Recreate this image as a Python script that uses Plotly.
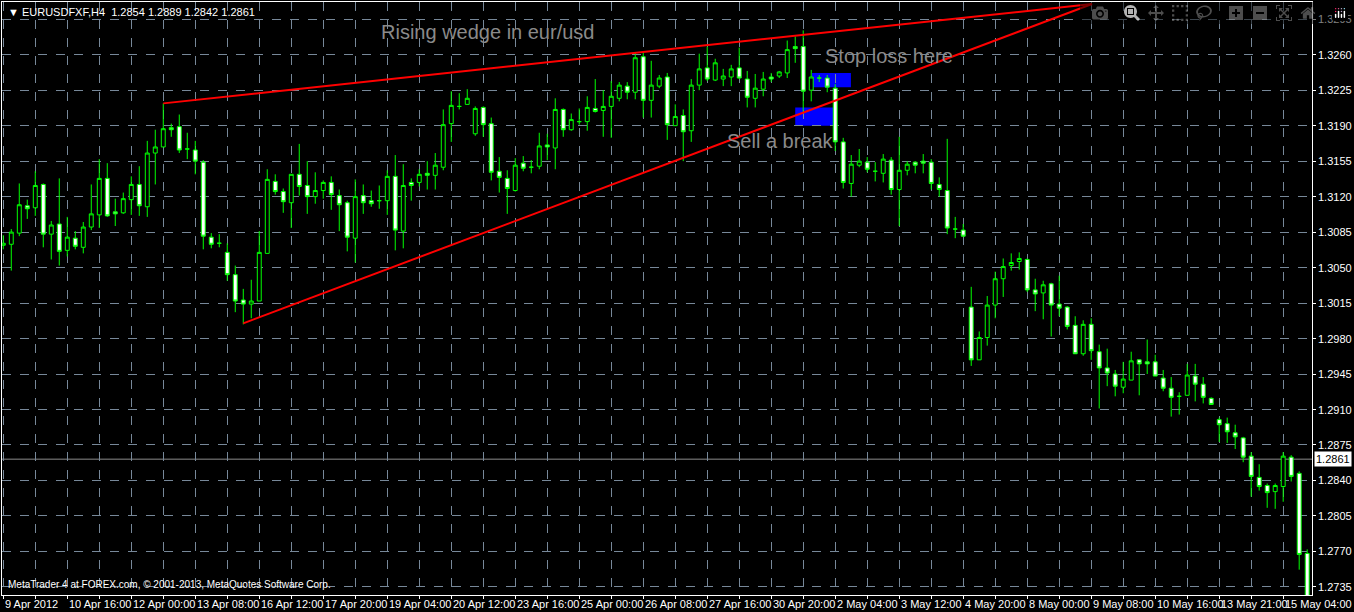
import plotly.graph_objects as go

opens = [1.3072,1.3073,1.3084,1.3111,1.3109,1.3132,1.3083,1.3093,1.3067,1.3079,1.3070,1.3090,1.3102,1.3138,1.3105,1.3104,1.3117,1.3132,1.3110,1.3163,
1.3169,1.3188,1.3189,1.3167,1.3166,1.3154,1.3080,1.3074,1.3065,1.3043,1.3018,1.3014,1.3017,1.3064,1.3135,1.3125,1.3114,1.3142,1.3131,1.3120,
1.3126,1.3134,1.3121,1.3114,1.3079,1.3121,1.3116,1.3116,1.3116,1.3140,1.3086,1.3134,1.3134,1.3143,1.3141,1.3149,1.3192,1.3209,1.3211,1.3182,
1.3208,1.3192,1.3145,1.3138,1.3126,1.3153,1.3149,1.3150,1.3171,1.3168,1.3206,1.3186,1.3194,1.3194,1.3207,1.3205,1.3209,1.3217,1.3229,1.3223,
1.3258,1.3215,1.3229,1.3238,1.3190,1.3200,1.3185,1.3230,1.3247,1.3235,1.3236,1.3238,1.3247,1.3236,1.3217,1.3226,1.3238,1.3239,1.3242,1.3268,
1.3268,1.3225,1.3237,1.3237,1.3227,1.3174,1.3133,1.3151,1.3154,1.3145,1.3143,1.3156,1.3127,1.3146,1.3154,1.3155,1.3154,1.3132,1.3126,1.3088,
1.3087,1.3011,1.2959,1.2981,1.3013,1.3039,1.3052,1.3056,1.3058,1.3028,1.3025,1.3034,1.3014,1.3011,1.2993,1.2965,1.2994,1.2967,1.2951,1.2945,
1.2932,1.2939,1.2959,1.2957,1.2957,1.2941,1.2931,1.2923,1.2924,1.2943,1.2935,1.2921,1.2900,1.2896,1.2887,1.2882,1.2864,1.2843,1.2835,1.2829,
1.2834,1.2863,1.2847,1.2768]
highs = [1.3082,1.3088,1.3133,1.3117,1.3145,1.3133,1.3096,1.3138,1.3100,1.3086,1.3095,1.3132,1.3157,1.3153,1.3118,1.3124,1.3140,1.3150,1.3175,1.3186,
1.3212,1.3192,1.3201,1.3183,1.3175,1.3156,1.3084,1.3083,1.3074,1.3052,1.3029,1.3038,1.3086,1.3147,1.3142,1.3128,1.3142,1.3172,1.3155,1.3144,
1.3136,1.3140,1.3127,1.3116,1.3137,1.3132,1.3126,1.3131,1.3146,1.3161,1.3152,1.3138,1.3147,1.3155,1.3163,1.3206,1.3224,1.3222,1.3226,1.3209,
1.3209,1.3198,1.3159,1.3146,1.3158,1.3160,1.3156,1.3183,1.3182,1.3217,1.3207,1.3202,1.3207,1.3219,1.3236,1.3225,1.3234,1.3233,1.3233,1.3262,
1.3262,1.3254,1.3240,1.3242,1.3211,1.3206,1.3236,1.3261,1.3268,1.3256,1.3246,1.3250,1.3267,1.3244,1.3241,1.3243,1.3242,1.3244,1.3274,1.3278,
1.3284,1.3245,1.3240,1.3240,1.3231,1.3178,1.3161,1.3167,1.3159,1.3154,1.3162,1.3159,1.3179,1.3155,1.3155,1.3162,1.3157,1.3139,1.3177,1.3100,
1.3093,1.3031,1.2987,1.3022,1.3046,1.3059,1.3064,1.3065,1.3059,1.3039,1.3037,1.3035,1.3042,1.3012,1.3002,1.2998,1.3000,1.2974,1.2970,1.2949,
1.2957,1.2967,1.2959,1.2979,1.2964,1.2949,1.2942,1.2927,1.2955,1.2955,1.2942,1.2922,1.2902,1.2902,1.2895,1.2883,1.2868,1.2856,1.2837,1.2837,
1.2868,1.2865,1.2849,1.2772]
lows = [1.3068,1.3047,1.3081,1.3098,1.3101,1.3070,1.3058,1.3052,1.3061,1.3068,1.3064,1.3087,1.3089,1.3100,1.3091,1.3103,1.3102,1.3101,1.3100,1.3132,
1.3169,1.3179,1.3163,1.3157,1.3142,1.3068,1.3069,1.3070,1.3037,1.3006,1.2994,1.3000,1.3017,1.3064,1.3122,1.3104,1.3089,1.3121,1.3103,1.3113,
1.3118,1.3107,1.3086,1.3066,1.3055,1.3103,1.3110,1.3108,1.3102,1.3067,1.3069,1.3116,1.3130,1.3127,1.3127,1.3146,1.3174,1.3206,1.3211,1.3180,
1.3179,1.3136,1.3124,1.3103,1.3125,1.3145,1.3143,1.3147,1.3156,1.3147,1.3179,1.3185,1.3191,1.3185,1.3203,1.3179,1.3178,1.3214,1.3216,1.3216,
1.3198,1.3198,1.3227,1.3176,1.3190,1.3155,1.3174,1.3225,1.3234,1.3234,1.3229,1.3229,1.3236,1.3208,1.3208,1.3219,1.3233,1.3237,1.3237,1.3252,
1.3202,1.3214,1.3233,1.3223,1.3165,1.3128,1.3120,1.3149,1.3144,1.3135,1.3134,1.3122,1.3091,1.3141,1.3143,1.3143,1.3127,1.3120,1.3083,1.3079,
1.3080,1.2953,1.2959,1.2973,1.3000,1.3021,1.3047,1.3048,1.3026,1.3007,1.2999,1.2982,1.3002,1.2989,1.2965,1.2963,1.2959,1.2911,1.2933,1.2923,
1.2926,1.2939,1.2924,1.2945,1.2943,1.2928,1.2903,1.2905,1.2924,1.2918,1.2916,1.2915,1.2878,1.2877,1.2871,1.2858,1.2824,1.2830,1.2813,1.2812,
1.2819,1.2839,1.2752,1.2722]
closes = [1.3074,1.3085,1.3112,1.3108,1.3131,1.3083,1.3092,1.3066,1.3080,1.3071,1.3090,1.3103,1.3138,1.3101,1.3103,1.3118,1.3132,1.3111,1.3163,1.3169,
1.3187,1.3186,1.3166,1.3167,1.3155,1.3081,1.3073,1.3074,1.3043,1.3017,1.3014,1.3017,1.3065,1.3137,1.3125,1.3115,1.3142,1.3130,1.3120,1.3126,
1.3134,1.3122,1.3112,1.3080,1.3120,1.3114,1.3113,1.3116,1.3140,1.3087,1.3131,1.3131,1.3142,1.3141,1.3151,1.3191,1.3210,1.3209,1.3217,1.3207,
1.3191,1.3144,1.3139,1.3128,1.3151,1.3148,1.3149,1.3170,1.3169,1.3206,1.3186,1.3196,1.3194,1.3208,1.3204,1.3209,1.3219,1.3230,1.3223,1.3257,
1.3215,1.3230,1.3237,1.3191,1.3199,1.3184,1.3230,1.3246,1.3236,1.3252,1.3239,1.3246,1.3237,1.3218,1.3227,1.3236,1.3236,1.3243,1.3265,1.3266,
1.3224,1.3238,1.3237,1.3228,1.3174,1.3134,1.3152,1.3155,1.3147,1.3145,1.3157,1.3127,1.3146,1.3152,1.3151,1.3153,1.3133,1.3127,1.3089,1.3088,
1.3081,1.2959,1.2981,1.3013,1.3039,1.3051,1.3055,1.3059,1.3028,1.3024,1.3033,1.3013,1.3010,1.2992,1.2965,1.2994,1.2968,1.2951,1.2946,1.2933,
1.2940,1.2958,1.2955,1.2955,1.2943,1.2931,1.2922,1.2923,1.2944,1.2935,1.2922,1.2915,1.2895,1.2888,1.2883,1.2863,1.2844,1.2834,1.2828,1.2835,
1.2864,1.2844,1.2767,1.2722]

bars = list(range(len(opens)))
price_ticks = [1.2735,1.2770,1.2805,1.2840,1.2875,1.2910,1.2945,1.2980,1.3015,1.3050,1.3085,1.3120,1.3155,1.3190,1.3225,1.3260,1.3295]
time_labels = ["9 Apr 2012","10 Apr 16:00","12 Apr 00:00","13 Apr 08:00","16 Apr 12:00","17 Apr 20:00","19 Apr 04:00",
               "20 Apr 12:00","23 Apr 16:00","25 Apr 00:00","26 Apr 08:00","27 Apr 16:00","30 Apr 20:00","2 May 04:00",
               "3 May 12:00","4 May 20:00","8 May 00:00","9 May 08:00","10 May 16:00","13 May 21:00","15 May 04:00"]
label_bars = [8*k for k in range(len(time_labels))]
upper_wedge = [(20, 1.3212), (136.1, 1.3310)]
lower_wedge = [(30, 1.2995), (136.1, 1.3310)]
stop_box = (101.1, 105.96, 1.3228, 1.3242)
sell_box = (99.0, 103.96, 1.3190, 1.3208)
last_price = 1.2861

GRID = "#778899"
FONT = "Liberation Sans"
fig = go.Figure()
fig.add_trace(go.Candlestick(
    x=bars, open=opens, high=highs, low=lows, close=closes,
    increasing=dict(line=dict(color="#00ff00", width=1), fillcolor="#000000"),
    decreasing=dict(line=dict(color="#00ff00", width=1), fillcolor="#ffffff"),
    whiskerwidth=0, hoverinfo="skip", showlegend=False))

shapes = []
for b in (stop_box, sell_box):
    shapes.append(dict(type="rect", xref="x", yref="y", x0=b[0], x1=b[1], y0=b[2], y1=b[3],
                       fillcolor="#0000ff", line=dict(width=0), layer="below"))
for w in (upper_wedge, lower_wedge):
    shapes.append(dict(type="line", xref="x", yref="y", x0=w[0][0], y0=w[0][1], x1=w[1][0], y1=w[1][1],
                       line=dict(color="#ff0000", width=2)))
shapes.append(dict(type="line", xref="paper", yref="y", x0=0, x1=1, y0=last_price, y1=last_price,
                   line=dict(color="#8c8c8c", width=1), layer="below"))

ann = []
for lb, txt in zip(label_bars, time_labels):
    ann.append(dict(x=lb, y=0, xref="x", yref="paper", yanchor="top", xanchor="left", xshift=0, yshift=-1,
                    text=txt, showarrow=False, font=dict(color="white", size=11, family=FONT)))
for p in price_ticks:
    ann.append(dict(x=1, y=p, xref="paper", yref="y", xanchor="left", xshift=4, text=f"{p:.4f}",
                    showarrow=False, font=dict(color="white", size=11, family=FONT)))
ann.append(dict(x=1, y=last_price, xref="paper", yref="y", xanchor="left", xshift=2, text=f"{last_price:.4f}",
                showarrow=False, bgcolor="white", borderpad=1, font=dict(color="black", size=11, family=FONT)))
ann.append(dict(x=0, y=1, xref="paper", yref="paper", xanchor="left", yanchor="top", xshift=4, yshift=-2,
                text="▼ EURUSDFXF,H4  1.2854 1.2889 1.2842 1.2861", showarrow=False,
                font=dict(color="white", size=11, family=FONT)))
ann.append(dict(x=0, y=0, xref="paper", yref="paper", xanchor="left", yanchor="bottom", xshift=4, yshift=3,
                text="MetaTrader 4 at FOREX.com, © 2001-2013, MetaQuotes Software Corp.", showarrow=False,
                font=dict(color="white", size=10, family=FONT)))
for txt, x, p in [("Rising wedge in eur/usd", 47, 1.3282), ("Stop loss here", 102.5, 1.3259), ("Sell a break", 90.2, 1.3175)]:
    ann.append(dict(x=x, y=p, xref="x", yref="y", xanchor="left", text=txt, showarrow=False,
                    font=dict(color="#8a8a8a", size=20, family=FONT)))

fig.update_layout(
    width=1354, height=612, margin=dict(l=2, r=42, t=2, b=17),
    paper_bgcolor="black", plot_bgcolor="black", shapes=shapes, annotations=ann,
    xaxis=dict(range=[-0.16, 163.6], tickmode="array", tickvals=list(range(0, 164, 4)), showticklabels=False,
               showgrid=True, gridcolor=GRID, griddash="dash", gridwidth=1, zeroline=False,
               showline=True, linecolor="white", mirror=True, rangeslider=dict(visible=False),
               ticks="outside", ticklen=3, tickcolor="white"),
    yaxis=dict(range=[1.2727, 1.3312], side="right", tickmode="array", tickvals=price_ticks, showticklabels=False,
               showgrid=True, gridcolor=GRID, griddash="dash", gridwidth=1, zeroline=False,
               showline=True, linecolor="white", mirror=True, ticks="outside", ticklen=3, tickcolor="white"),
)
fig.write_html("out.html", post_script="document.body.style.margin='0';document.body.style.background='black';")
